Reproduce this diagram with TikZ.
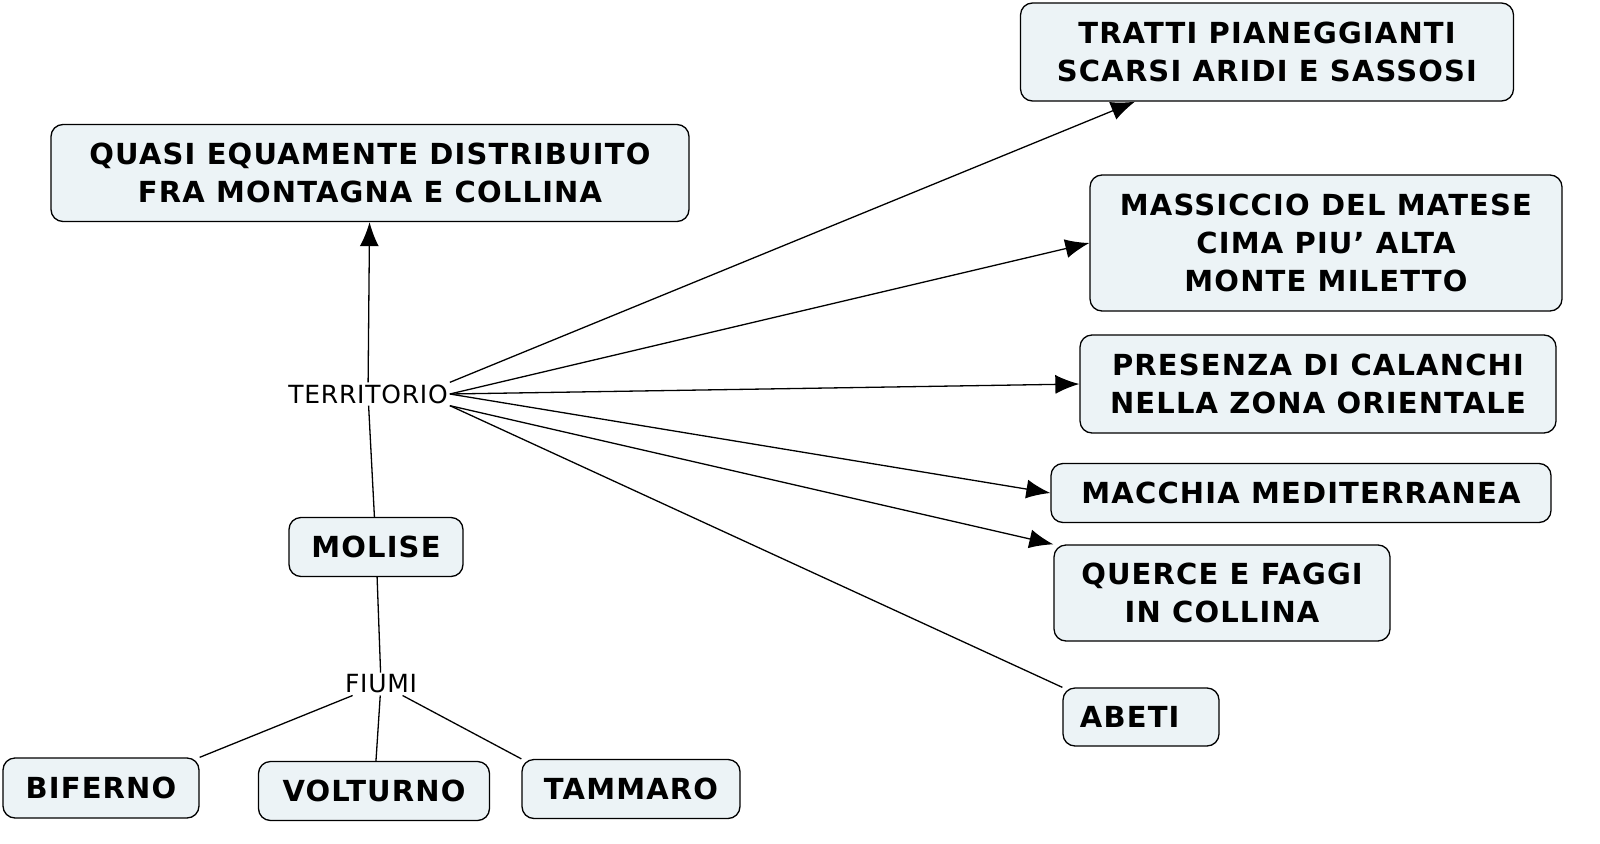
\documentclass[tikz,border=0pt]{standalone}
\usepackage{fontspec}
\setmainfont{DejaVu Sans}
\usetikzlibrary{arrows.meta}
\begin{document}
\begin{tikzpicture}[x=1pt,y=-1pt,
  box/.style={draw,line width=1.3pt,rounded corners=12pt,fill={rgb,255:red,236;green,243;blue,246},align=center,font=\fontsize{29}{38}\selectfont\bfseries\addfontfeature{LetterSpace=4},inner sep=0pt},
  lab/.style={font=\fontsize{25}{26}\selectfont\addfontfeature{LetterSpace=3},inner sep=2pt,fill=white},
  arr/.style={line width=1.3pt,-{Latex[length=24pt,width=19pt]}},
  ln/.style={line width=1.3pt}]
\useasboundingbox (0,0) rectangle (1600,843);
\node[box,minimum width=493,minimum height=98] (tratti) at (1267,52) {TRATTI PIANEGGIANTI\\SCARSI ARIDI E SASSOSI};
\node[box,minimum width=638,minimum height=97] (quasi) at (370,173) {QUASI EQUAMENTE DISTRIBUITO\\FRA MONTAGNA E COLLINA};
\node[box,minimum width=472,minimum height=136] (mass) at (1326,243) {MASSICCIO DEL MATESE\\CIMA PIU\char39\ ALTA\\MONTE MILETTO};
\node[box,minimum width=476,minimum height=98] (pres) at (1318,384) {PRESENZA DI CALANCHI\\NELLA ZONA ORIENTALE};
\node[box,minimum width=500,minimum height=59] (macc) at (1301,493) {MACCHIA MEDITERRANEA};
\node[box,minimum width=336,minimum height=96] (quer) at (1222,593) {QUERCE E FAGGI\\IN COLLINA};
\node[box,minimum width=156,minimum height=58] (abeti) at (1141,717) {ABETI\ \ };
\node[box,minimum width=174,minimum height=59] (molise) at (376,547) {MOLISE};
\node[box,minimum width=196,minimum height=60] (bif) at (101,788) {BIFERNO};
\node[box,minimum width=231,minimum height=59] (vol) at (374,791) {VOLTURNO};
\node[box,minimum width=218,minimum height=59] (tam) at (631,789) {TAMMARO};
\node[lab] (terr) at (368,394) {TERRITORIO};
\node[lab] (fiumi) at (381,684) {FIUMI};
\draw[ln] (molise) -- (terr);
\draw[arr] (terr) -- (quasi);
\draw[arr] (terr.north east) -- (tratti.south west -| 1135,101);
\draw[arr] (terr.east) -- (mass.west);
\draw[arr] (terr.east) -- (pres.west);
\draw[arr] (terr.east) -- (macc.west);
\draw[arr] (terr.south east) -- (quer.north west);
\draw[ln] (terr.south east) -- (abeti.north west);
\draw[ln] (molise) -- (fiumi);
\draw[ln] (fiumi) -- (bif.north east);
\draw[ln] (fiumi) -- (vol);
\draw[ln] (fiumi) -- (tam.north west);
\end{tikzpicture}
\end{document}
